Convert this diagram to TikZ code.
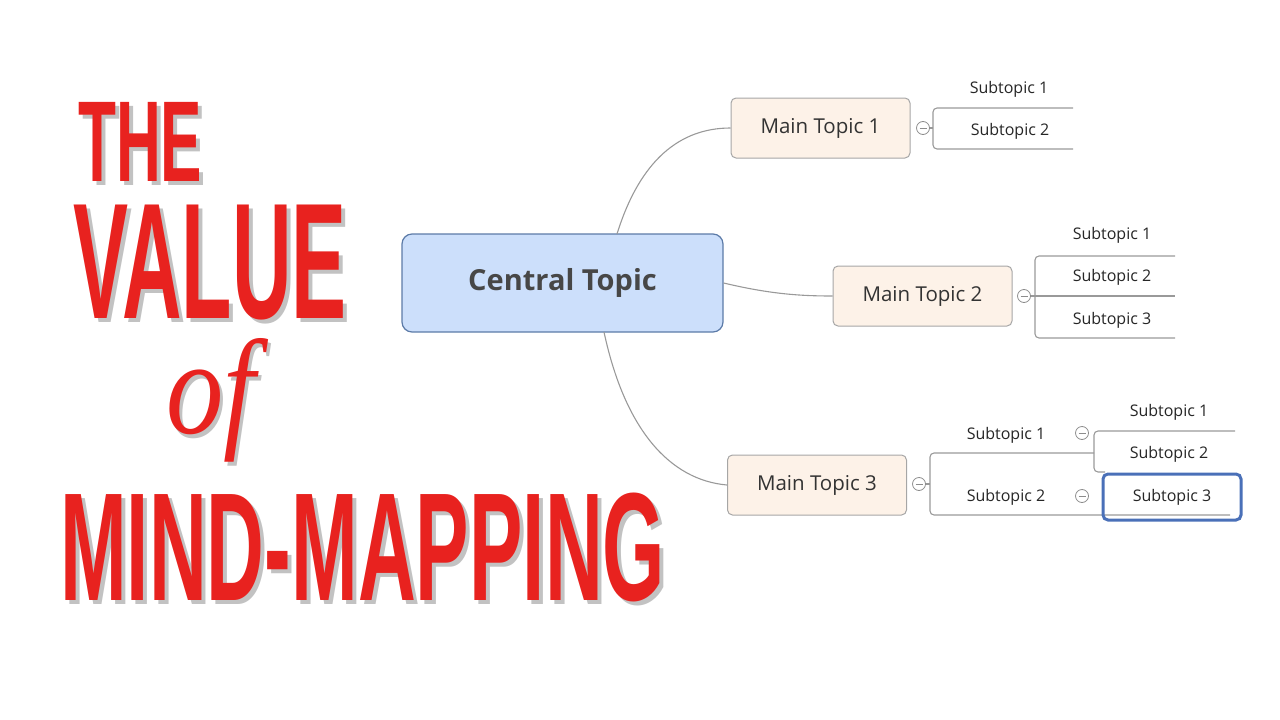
\documentclass[tikz,border=0pt]{standalone}
\usepackage{fontspec}
\setmainfont{Open Sans}
\newfontfamily\titlefont{Liberation Sans}
\newfontfamily\offont{Liberation Serif}
\begin{document}
\begin{tikzpicture}[x=1pt,y=-1pt,
  mt/.style={draw=black!35,fill=mtfill,rounded corners=5pt,minimum width=179pt,minimum height=60pt,font=\fontsize{20.5}{24}\selectfont,text=black!80,line width=1pt},
  st/.style={font=\fontsize{16}{18}\selectfont,text=black!85},
  cc/.style={circle,draw=black!45,inner sep=0pt,minimum size=13pt,line width=0.8pt,path picture={\draw[black!45,line width=0.8pt] ([xshift=-3.5pt]path picture bounding box.center)--([xshift=3.5pt]path picture bounding box.center);}},
  ln/.style={draw=black!40,line width=1.1pt},
  red/.style={font=\titlefont\bfseries},
  shd/.style={opacity=0.6,font=\titlefont\bfseries}]
\definecolor{tr}{HTML}{E8221F}
\definecolor{ctfill}{HTML}{CCDFFB}
\definecolor{ctdraw}{HTML}{5C7BA8}
\definecolor{mtfill}{HTML}{FDF2E8}
\definecolor{selb}{HTML}{4A70B8}
\useasboundingbox (0,0) rectangle (1280,720);
% title
\foreach \s/\dx/\dy/\c in {shd/4/4/black!40,red/0/0/tr}{
 \node[\s,text=\c,anchor=south west,inner sep=0pt] at (78+\dx,182+\dy) {\fontsize{115}{115}\selectfont\scalebox{0.54}[1]{THE}};
 \node[\s,text=\c,anchor=south west,inner sep=0pt] at (73+\dx,320+\dy) {\fontsize{165}{165}\selectfont\scalebox{0.5}[1]{VALUE}};
 \node[\s,text=\c,anchor=south west,inner sep=0pt] at (60+\dx,602+\dy) {\fontsize{154}{154}\selectfont\scalebox{0.52}[1]{MIND-MAPPING}};
}
\node[text=black!40,opacity=0.6,font=\offont\itshape] at (214,404) {\fontsize{135}{135}\selectfont\scalebox{0.85}[1]{of}};
\node[text=tr,font=\offont\itshape] at (211,400) {\fontsize{135}{135}\selectfont\scalebox{0.85}[1]{of}};
% central
\node[draw=ctdraw,fill=ctfill,rounded corners=10pt,minimum width=321pt,minimum height=98pt,line width=1.2pt,font=\fontsize{29}{32}\selectfont\bfseries,text=black!72] (ct) at (562.5,283) {Central Topic};
\node[mt] (m1) at (820.5,128) {Main Topic 1};
\node[mt] (m2) at (922.5,296) {Main Topic 2};
\node[mt] (m3) at (817,485) {Main Topic 3};
\coordinate (c1) at (617,234);
\coordinate (c3) at (604,332);
\draw[ln] (c1) .. controls (640,160) and (680,128) .. (m1.west);
\draw[ln] (ct.east) .. controls (770,294) and (800,296) .. (m2.west);
\draw[ln] (c3) .. controls (625,430) and (670,480) .. (m3.west);
% MT1
\node[cc] (k1) at (923,128) {};
\coordinate (a1) at (1073,108); \coordinate (a2) at (1073,149);
\draw[ln,rounded corners=4pt] (a1) -| (933,128) |- (a2);
\draw[ln] (k1) -- (933,128);
\node[st] (s11) at (1009,89) {Subtopic 1};
\node[st] (s12) at (1010,131) {Subtopic 2};
% MT2
\node[cc] (k2) at (1024,296) {};
\coordinate (b1) at (1175,256); \coordinate (b2) at (1175,296); \coordinate (b3) at (1175,338);
\draw[ln,rounded corners=4pt] (b1) -| (1035,296) |- (b3);
\draw[ln] (k2) -- (b2);
\node[st] (s21) at (1112,235) {Subtopic 1};
\node[st] (s22) at (1112,277) {Subtopic 2};
\node[st] (s23) at (1112,320) {Subtopic 3};
% MT3
\node[cc] (k3) at (919,484) {};
\coordinate (d1) at (1094,453); \coordinate (d2) at (1230,515);
\draw[ln,rounded corners=4pt] (d1) -| (930,484) |- (d2);
\draw[ln] (k3) -- (930,484);
\node[st] (s31) at (1006,435) {Subtopic 1};
\node[st] (s32) at (1006,497) {Subtopic 2};
\node[cc] (k31) at (1082,433) {};
\node[cc] (k32) at (1082,496) {};
\coordinate (e1) at (1235,431); \coordinate (e2) at (1105,472);
\draw[ln,rounded corners=4pt] (e1) -| (1094,451) |- (e2);
\node[st] (u1) at (1169,412) {Subtopic 1};
\node[st] (u2) at (1169,454) {Subtopic 2};
\node[st,draw=selb,line width=3pt,rounded corners=5pt,minimum width=138pt,minimum height=46pt] (u3) at (1172,497) {Subtopic 3};
\end{tikzpicture}
\end{document}
